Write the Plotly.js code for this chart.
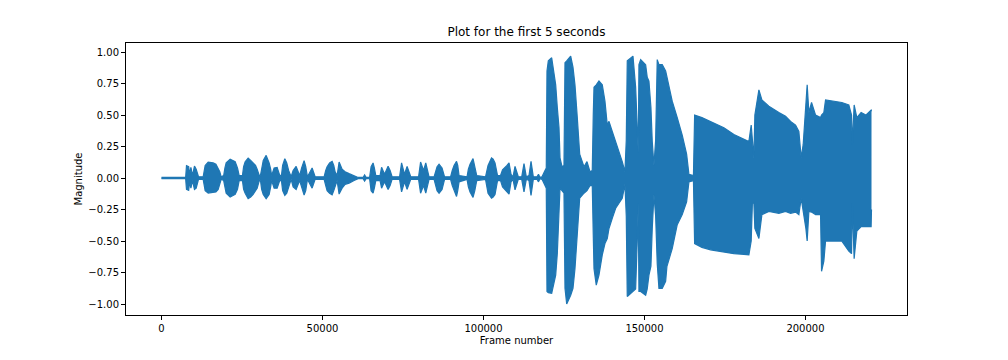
<!DOCTYPE html>
<html>
<head>
<meta charset="utf-8">
<script src="https://cdn.plot.ly/plotly-3.0.1.min.js"></script>
<style>
html,body{margin:0;padding:0;background:#fff;}
#chart{width:1008px;height:360px;}
</style>
</head>
<body>
<div id="chart"></div>
<script>
// Waveform envelope.
// Quiet speech part (frames 0 .. ~119500)
const quietFrames = [0,7500,7760,8440,8750,9130,9620,10240,10770,11490,
  12940,13300,13560,14500,16050,16900,17600,18100,18530,
  19310,19700,20080,21320,22200,22880,23600,24120,
  25140,25500,25980,26910,27700,28460,29200,29710,30480,
  30800,31100,31600,32500,33000,33430,33900,34210,
  34980,35910,36850,
  37300,37620,38300,38900,39480,40260,
  40880,41810,42900,
  43520,44290,44800,45320,
  46160,46780,47710,
  50500,51000,51430,52200,52990,53500,53920,
  54540,55160,56090,57020,58260,59810,61060,62610,63070,63540,64630,
  65090,65710,66100,66550,
  67880,68350,69280,70370,71000,71610,
  73940,74560,75490,76270,77410,
  79840,80460,81390,82070,83090,
  84650,85580,86200,87130,87910,
  89770,90300,90850,91630,92000,92410,
  94890,95300,95820,96750,97300,97900,
  100630,101000,101410,102490,103000,103580,104360,
  105290,105910,107300,107930,108550,
  109170,109790,110810,
  111870,112580,113300,
  114130,114760,115470,
  116620,117080,117550,118170,119100,119500];
const quietUpper = [.005,.005,.098,.09,.03,.085,.02,.095,.07,.01,
  .01,.07,.10,.127,.12,.11,.08,.05,.01,
  .02,.08,.12,.149,.14,.13,.08,.02,
  .02,.09,.13,.159,.14,.12,.10,.07,.01,
  .03,.08,.14,.18,.15,.12,.07,.02,
  .08,.085,.01,
  .03,.10,.154,.12,.06,.01,
  .06,.093,.02,
  .08,.138,.09,.01,
  .05,.08,.01,
  .01,.06,.09,.12,.133,.10,.05,
  .02,.127,.07,.05,.035,.02,.005,.005,.025,.005,.005,
  .09,.12,.08,.02,
  .02,.085,.03,.093,.06,.01,
  .01,.12,.03,.093,.01,
  .01,.127,.06,.12,.01,
  .01,.09,.11,.08,.01,
  .01,.06,.10,.133,.1,.02,
  .01,.07,.11,.154,.10,.02,
  .01,.07,.10,.16,.15,.12,.02,
  .02,.066,.10,.12,.03,
  .01,.093,.01,
  .01,.114,.01,
  .02,.133,.01,
  .01,.03,.005,.01,.06,.08];
const quietLower = [-.005,-.005,-.09,-.098,-.03,-.08,-.02,-.09,-.08,-.01,
  -.01,-.06,-.10,-.119,-.115,-.11,-.09,-.05,-.01,
  -.02,-.08,-.12,-.151,-.14,-.13,-.09,-.02,
  -.02,-.09,-.12,-.164,-.15,-.13,-.10,-.08,-.01,
  -.03,-.09,-.13,-.164,-.15,-.13,-.07,-.02,
  -.08,-.08,-.01,
  -.03,-.10,-.138,-.12,-.08,-.01,
  -.07,-.09,-.02,
  -.08,-.135,-.1,-.01,
  -.05,-.08,-.01,
  -.01,-.06,-.10,-.12,-.133,-.10,-.06,
  -.02,-.127,-.08,-.05,-.04,-.02,-.005,-.005,-.025,-.005,-.005,
  -.10,-.12,-.08,-.02,
  -.02,-.08,-.03,-.09,-.06,-.01,
  -.01,-.11,-.03,-.09,-.01,
  -.01,-.12,-.06,-.12,-.01,
  -.01,-.10,-.12,-.09,-.01,
  -.01,-.06,-.10,-.146,-.1,-.03,
  -.01,-.07,-.11,-.154,-.10,-.02,
  -.01,-.08,-.12,-.16,-.15,-.13,-.02,
  -.02,-.07,-.11,-.127,-.03,
  -.01,-.093,-.01,
  -.01,-.11,-.01,
  -.02,-.138,-.01,
  -.01,-.03,-.005,-.01,-.06,-.08];

// Loud part (frames ~119700 .. 220500)
const loudFrames = [119720,120130,121180,122420,122920,123450,123760,124380,125000,125310,125840,127080,127790,128410,129130,129870,131210,132140,133070,133780,134090,134320,135020,135860,136890,137720,138440,138970,139990,141050,142070,143090,143930,144340,144650,146420,147250,147750,148060,148280,148810,150360,150850,151380,152000,152410,152930,153460,153960,154490,155510,156570,156970,158610,160170,161720,163080,163800,165200,165570,167830,170530,174660,177770,180870,182420,183140,183510,183970,184280,185530,186460,188630,191730,193810,195370,196920,197940,198660,199280,200120,200520,201050,201880,203130,204680,204990,205700,206230,208190,211290,213460,214300,214550,215110,215950,217280,218740,220380,220500];
const loudUpper = [0.85,0.93,0.955,0.74,0.56,0.4,0.16,0.09,0.1,0.915,0.93,0.968,0.88,0.74,0.48,0.19,0.09,0.13,0.05,0.06,0.5,0.72,0.74,0.77,0.74,0.61,0.42,0.45,0.37,0.29,0.21,0.13,0.05,0.3,0.93,0.968,0.72,0.29,0.2,0.9,0.94,0.9,0.8,0.77,0.56,0.29,0.1,0.3,0.94,0.9,0.9,0.85,0.8,0.61,0.48,0.34,0.19,0.03,0.02,0.5,0.48,0.45,0.40,0.345,0.305,0.29,0.42,0.29,0.16,0.5,0.70,0.62,0.57,0.52,0.49,0.45,0.42,0.37,0.16,0.265,0.6,0.74,0.52,0.60,0.50,0.48,0.5,0.52,0.62,0.61,0.60,0.58,0.5,0.265,0.58,0.48,0.52,0.50,0.54,0.53];
const loudLower = [-0.9,-0.91,-0.915,-0.77,-0.6,-0.24,-0.08,-0.1,-0.12,-0.875,-1.0,-0.93,-0.875,-0.72,-0.4,-0.16,-0.12,-0.1,-0.06,-0.06,-0.45,-0.72,-0.85,-0.77,-0.61,-0.52,-0.48,-0.4,-0.32,-0.24,-0.2,-0.16,-0.05,-0.3,-0.94,-0.9,-0.88,-0.5,-0.2,-0.9,-0.9,-0.93,-0.88,-0.77,-0.7,-0.4,-0.13,-0.3,-0.68,-0.875,-0.875,-0.82,-0.7,-0.56,-0.37,-0.29,-0.19,-0.03,-0.02,-0.52,-0.55,-0.57,-0.59,-0.6,-0.605,-0.61,-0.5,-0.2,-0.2,-0.4,-0.48,-0.29,-0.265,-0.28,-0.265,-0.28,-0.27,-0.29,-0.16,-0.25,-0.4,-0.5,-0.265,-0.27,-0.29,-0.29,-0.74,-0.66,-0.5,-0.50,-0.50,-0.58,-0.6,-0.2,-0.64,-0.42,-0.385,-0.385,-0.385,-0.25];

const xTicks = [0, 50000, 100000, 150000, 200000];
const yTicks = [-1.0, -0.75, -0.5, -0.25, 0.0, 0.25, 0.5, 0.75, 1.0];

const frames = quietFrames.concat(loudFrames);
const upperPeak = quietUpper.concat(loudUpper);
const lowerPeak = quietLower.concat(loudLower);

const blue = '#1f77b4';
const font = 'DejaVu Sans, sans-serif';

const traces = [
  {x: frames, y: upperPeak, type: 'scatter', mode: 'lines',
   line: {color: blue, width: 1.2}, hoverinfo: 'skip', showlegend: false},
  {x: frames, y: lowerPeak, type: 'scatter', mode: 'lines', fill: 'tonexty',
   fillcolor: blue, line: {color: blue, width: 1.2}, hoverinfo: 'skip', showlegend: false}
];

const axisCommon = {
  showline: true, mirror: true, linecolor: '#000', linewidth: 1,
  ticks: 'outside', ticklen: 4, tickwidth: 1, tickcolor: '#000',
  showgrid: false, zeroline: false,
  tickfont: {family: font, size: 10, color: '#000'}
};

const layout = {
  width: 1008, height: 360,
  margin: {l: 126, r: 101, t: 43, b: 45, pad: 0},
  paper_bgcolor: '#fff', plot_bgcolor: '#fff',
  font: {family: font, color: '#000'},
  title: {text: 'Plot for the first 5 seconds', font: {family: font, size: 12, color: '#000'},
          x: 0.5127, xref: 'paper', xanchor: 'center', y: 0.911, yref: 'container', yanchor: 'middle'},
  xaxis: Object.assign({}, axisCommon, {
    range: [-11025, 231525], tickvals: xTicks, ticktext: xTicks.map(v => String(v)),
    title: {text: 'Frame number', font: {family: font, size: 10, color: '#000'}, standoff: 3}
  }),
  yaxis: Object.assign({}, axisCommon, {
    range: [-1.087, 1.072], tickvals: yTicks,
    ticktext: yTicks.map(v => (v < 0 ? '\u2212' : '') + Math.abs(v).toFixed(2)),
    title: {text: 'Magnitude', font: {family: font, size: 10, color: '#000'}, standoff: 3}
  }),
  showlegend: false
};

Plotly.newPlot('chart', traces, layout, {displayModeBar: false, staticPlot: true});
</script>
</body>
</html>
